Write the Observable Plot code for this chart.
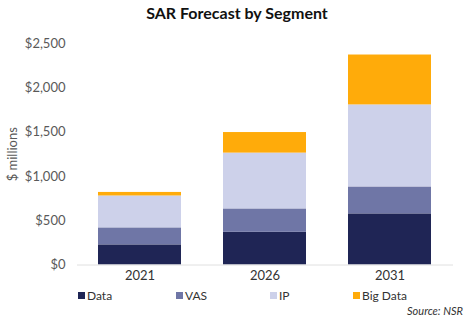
<!DOCTYPE html>
<html>
<head>
<meta charset="utf-8">
<script src="https://cdn.jsdelivr.net/npm/d3@7"></script>
<script src="https://cdn.jsdelivr.net/npm/@observablehq/plot@0.6"></script>
<style>
  body { margin: 0; background: #fff; font-family: Lato, "Open Sans", sans-serif; }
  #wrap { position: relative; width: 474px; height: 323px; }
  #title { position: absolute; left: 0; top: 3px; width: 474px; text-align: center; font-weight: bold; font-size: 16px; color: #111; }
  #chart { position: absolute; left: 0; top: 28px; }
  #legend { position: absolute; left: 0; top: 288px; width: 474px; height: 14px; font-size: 12px; color: #333; }
  .li { position: absolute; top: 0; display: flex; align-items: center; }
  .sw { width: 7px; height: 7px; margin-right: 2px; }
  #source { position: absolute; right: 11px; top: 304px; font-size: 11px; font-style: italic; color: #333; }
</style>
</head>
<body>
<div id="wrap">
  <div id="title">SAR Forecast by Segment</div>
  <div id="chart"></div>
  <div id="legend"></div>
  <div id="source">Source: NSR</div>
</div>
<script>
const years = ["2021", "2026", "2031"];
const segments = ["Data", "VAS", "IP", "Big Data"];
const dataVals = [227, 369, 577];
const vasVals = [192, 264, 304];
const ipVals = [360, 630, 926];
const bigDataVals = [40, 232, 563];
const yTicks = [0, 500, 1000, 1500, 2000, 2500];
const colors = ["#1f2555", "#6f76a6", "#cdd1ea", "#ffab0a"];

const seriesVals = [dataVals, vasVals, ipVals, bigDataVals];
const rows = [];
segments.forEach((s, i) => years.forEach((y, j) => rows.push({year: y, segment: s, value: seriesVals[i][j]})));

const fmt = d => "$" + d3.format(",")(d);

const chart = Plot.plot({
  width: 474,
  height: 256,
  marginLeft: 77,
  marginRight: 21,
  marginTop: 15,
  marginBottom: 19.5,
  style: {fontFamily: "Lato, 'Open Sans', sans-serif", fontSize: "13px", color: "#595959", background: "#fff"},
  x: {domain: years, paddingInner: 0.333, paddingOuter: 0.16},
  y: {domain: [0, 2500]},
  color: {domain: segments, range: colors},
  marks: [
    Plot.gridY(yTicks, {stroke: "#e6e6e6", strokeOpacity: 1, x1: 77, x2: 455}),
    Plot.barY(rows, {x: "year", y: "value", fill: "segment", inset: 0}),
    Plot.axisY(yTicks, {tickSize: 0, tickPadding: 12, tickFormat: fmt, label: "$ millions", labelAnchor: "center", labelArrow: "none", labelOffset: 70, fill: "#595959"}),
    Plot.axisX({tickSize: 0, tickPadding: 6, label: null, fill: "#333"}),
    Plot.ruleY([0], {stroke: "#e0e0e0"})
  ]
});
document.getElementById("chart").appendChild(chart);

const legend = document.getElementById("legend");
const lefts = [78, 176, 270, 353];
segments.forEach((s, i) => {
  const d = document.createElement("div");
  d.className = "li";
  d.style.left = lefts[i] + "px";
  d.innerHTML = `<span class="sw" style="background:${colors[i]}"></span><span>${s}</span>`;
  legend.appendChild(d);
});
</script>
</body>
</html>
